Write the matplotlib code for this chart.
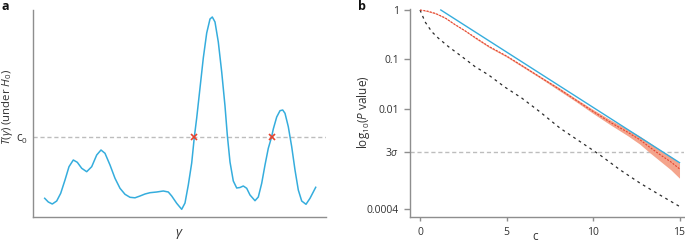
"""Two-panel figure: test statistic scan (a) and local/global p-value curves (b)."""

import matplotlib

matplotlib.use("Agg")

import matplotlib.pyplot as plt
import numpy as np

# ---- panel a: T(gamma) scan under H0 ----
GAMMA = [11.4, 15.0, 19.0, 23.4, 27.4, 31.7, 35.7, 40.0, 44.0, 48.4, 53.4, 58.4,
         63.4, 67.7, 71.7, 76.7, 81.7, 86.7, 91.7, 96.7, 101.7, 106.7, 111.7,
         116.7, 123.4, 130.0, 135.0, 138.4, 143.4, 148.4, 151.7, 155.0, 158.4,
         161.0, 163.4, 166.7, 170.0, 173.4, 176.7, 179.0, 181.7, 185.0, 188.4,
         191.7, 194.0, 196.7, 200.0, 203.4, 206.7, 210.0, 213.4, 216.7, 221.7,
         225.0, 228.4, 231.7, 235.0, 238.2, 240.0, 243.4, 246.7, 249.4, 251.7,
         255.0, 258.4, 261.7, 265.0, 268.4, 272.7, 276.7, 282.4]
T_GAMMA = [19.0, 15.3, 13.3, 16.3, 24.0, 37.3, 50.6, 57.3, 55.0, 49.0, 45.6, 50.6,
           62.3, 67.3, 64.0, 52.3, 39.0, 29.0, 23.0, 20.0, 19.5, 21.3, 23.3,
           24.6, 25.3, 26.3, 25.3, 21.3, 14.0, 8.0, 14.3, 32.3, 54.3,
           80.0, 99.3, 129.3, 159.3, 184.3, 198.3, 200.3, 195.3, 175.3, 145.3,
           111.3, 82.3, 55.3, 36.3, 29.3, 29.8, 31.3, 29.0, 22.3, 16.6,
           20.3, 34.0, 52.3, 69.0, 80.0, 88.3, 100.3, 106.6, 107.3, 104.0,
           90.6, 70.6, 47.3, 27.3, 16.3, 13.0, 19.0, 30.0]
C0 = 80.0
UPCROSS_GAMMA = [161.0, 238.2]

# ---- panel b: log10 p-value versus threshold c ----
C_BLUE = [1.2, 15.0]
LOG_BLUE = [0.0, -3.085]

C_RED = [0, 0.4, 0.9, 1.45, 2.0, 2.6, 3.2, 4.0, 5.0, 6.0, 7.0, 8.0, 9.0, 10.0,
         11.0, 12.0, 12.7, 13.3, 13.9, 14.5, 15.0]
LOG_RED = [0.0, -0.02, -0.07, -0.16, -0.29, -0.42, -0.56, -0.74, -0.93, -1.15,
           -1.37, -1.59, -1.82, -2.05, -2.27, -2.47, -2.62, -2.78, -2.93, -3.07, -3.21]
LOG_RED_HI = [0.0, -0.01, -0.06, -0.15, -0.28, -0.41, -0.55, -0.73, -0.92, -1.13,
              -1.35, -1.56, -1.79, -2.01, -2.22, -2.41, -2.55, -2.69, -2.83, -2.96, -3.09]
LOG_RED_LO = [0.0, -0.03, -0.08, -0.17, -0.30, -0.43, -0.58, -0.76, -0.95, -1.17,
              -1.39, -1.62, -1.85, -2.09, -2.32, -2.54, -2.71, -2.89, -3.06, -3.23, -3.40]

C_BLACK = [0, 0.29, 0.68, 1.06, 1.64, 2.41, 3.18, 3.95, 4.91, 5.88, 6.9, 8.1,
           9.25, 10.4, 11.56, 12.72, 13.87, 15.0]
LOG_BLACK = [0.0, -0.24, -0.44, -0.57, -0.74, -0.94, -1.145, -1.31, -1.56, -1.78,
             -2.05, -2.39, -2.66, -2.93, -3.23, -3.50, -3.74, -3.97]

LOG_3SIGMA = -2.87
Y_TICKS = [0, -1, -2, LOG_3SIGMA, -4.02]
Y_TICK_LABELS = ["1", "0.1", "0.01", "3$\\sigma$", "0.0004"]
X_TICKS = [0, 5, 10, 15]

BLUE = "#35ADDD"
RED = "#E5432F"
BAND = "#F4A48C"
GREY_DASH = "#BDBDBD"
SPINE = "#8E8E8E"
TEXT = "#333333"

plt.rcParams.update({
    "font.family": ["Open Sans", "DejaVu Sans"],
    "mathtext.fontset": "custom",
    "mathtext.rm": "Open Sans",
    "mathtext.it": "Open Sans:italic",
    "mathtext.bf": "Open Sans:bold",
    "text.color": TEXT,
    "xtick.color": SPINE,
    "ytick.color": SPINE,
    "xtick.labelcolor": TEXT,
    "ytick.labelcolor": TEXT,
})


def style_spines(ax):
    for side in ("top", "right"):
        ax.spines[side].set_visible(False)
    for side in ("left", "bottom"):
        ax.spines[side].set_color(SPINE)
        ax.spines[side].set_linewidth(1.0)


W, H = 685, 241
fig = plt.figure(figsize=(W / 100, H / 100), dpi=100)

# panel a
ax_a = fig.add_axes([33.3 / W, 1 - 217.3 / H, 292.7 / W, 207.3 / H])
ax_a.plot(GAMMA, T_GAMMA, color=BLUE, lw=1.1, solid_joinstyle="round")
ax_a.axhline(C0, color=GREY_DASH, lw=1.0, dashes=(3, 2), zorder=0)
ax_a.plot(UPCROSS_GAMMA, [C0] * len(UPCROSS_GAMMA), ls="none", marker="x",
          ms=4.5, mew=1.2, color=RED)
ax_a.set_xlim(0, 292.7)
ax_a.set_ylim(0, 207.3)
ax_a.set_xticks([])
ax_a.set_yticks([C0], ["c$_0$"], fontsize=8.5)
ax_a.tick_params(axis="y", length=0, pad=4)
style_spines(ax_a)

fig.text(8 / W, 1 - 107 / H, "$T$($\\gamma$) (under $H_0$)", rotation=90,
         ha="center", va="center", fontsize=8.2)
fig.text(179 / W, 1 - 234 / H, "$\\gamma$", ha="center", va="center", fontsize=9.5)
fig.text(5.5 / W, 1 - 6.5 / H, "a", ha="center", va="center", fontsize=9,
         fontweight="bold", color="#111111")

# panel b
ax_b = fig.add_axes([409.5 / W, 1 - 217.3 / H, 274.5 / W, 208.0 / H])
ax_b.fill_between(C_RED, LOG_RED_LO, LOG_RED_HI, color=BAND, lw=0, zorder=1)
ax_b.plot(C_RED, LOG_RED, color=RED, lw=0.8, dashes=(1.8, 1.2), zorder=3)
ax_b.plot(C_BLUE, LOG_BLUE, color=BLUE, lw=1.0, zorder=2)
ax_b.plot(C_BLACK, LOG_BLACK, color="#2B2B2B", lw=0.9, dashes=(2.2, 3), zorder=2)
ax_b.axhline(LOG_3SIGMA, color=GREY_DASH, lw=1.0, dashes=(3, 2), zorder=0)
ax_b.set_xlim(-0.61, 15.26)
ax_b.set_ylim(-4.19, 0.014)
ax_b.set_xticks(X_TICKS, [str(t) for t in X_TICKS], fontsize=7.5)
ax_b.set_yticks(Y_TICKS, Y_TICK_LABELS, fontsize=7.5)
ax_b.tick_params(axis="y", length=4.5, width=1.0, pad=3)
ax_b.tick_params(axis="x", length=3, width=1.0, pad=4)
style_spines(ax_b)

fig.text(363 / W, 1 - 112.5 / H, "log$_{10}$($P$ value)", rotation=90,
         ha="center", va="center", fontsize=8.5)
fig.text(535 / W, 1 - 236 / H, "c", ha="center", va="center", fontsize=8.5)
fig.text(361.5 / W, 1 - 6.5 / H, "b", ha="center", va="center", fontsize=9,
         fontweight="bold", color="#111111")

fig.savefig("out.png", dpi=100)
